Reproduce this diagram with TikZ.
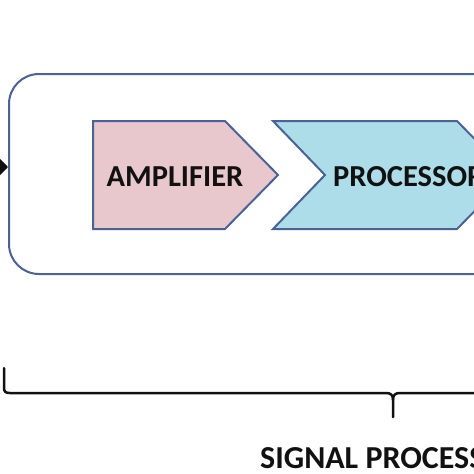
\documentclass[tikz,border=0pt]{standalone}
\usepackage{fontspec}
\setmainfont{Carlito}
\usetikzlibrary{arrows.meta}
\definecolor{frame}{HTML}{4A6296}
\definecolor{ampfill}{HTML}{E8C8CC}
\definecolor{procfill}{HTML}{ADDDE8}
\definecolor{ink}{HTML}{111111}
\tikzset{
  blockshape/.style={draw=frame, line width=2pt, line join=miter},
  blocklabel/.style={font=\bfseries\fontsize{30.5}{30.5}\selectfont, text=ink, inner sep=0pt},
  bracestyle/.style={draw=ink, line width=2.5pt, line cap=round, line join=round},
}
\begin{document}
\begin{tikzpicture}[x=1pt,y=-1pt]
\useasboundingbox (0,0) rectangle (474,474);
\clip (0,0) rectangle (474,474);
% container
\node[draw=frame, line width=2pt, rounded corners=30pt, minimum width=640pt, minimum height=200pt, inner sep=0pt, anchor=north west] (box) at (8,73) {};
% input arrow
\coordinate (instart) at (-40,167);
\coordinate (intip) at (8,167);
\draw[ink, line width=2pt, -{Triangle[length=9pt,width=18pt]}] (instart) -- (intip);
% amplifier
\draw[blockshape, fill=ampfill] (93,121) -- (225,121) -- (278,175) -- (225,229) -- (93,229) -- cycle;
\node[blocklabel] (amp) at (175,177) {AMPLIFIER};
% processor
\draw[blockshape, fill=procfill] (273,121) -- (457,121) -- (510,175) -- (457,229) -- (273,229) -- (325,175) -- cycle;
\node[blocklabel, anchor=west] (proc) at (333,177) {PROCESSOR};
% brace
\coordinate (bl) at (4,368);
\coordinate (bm) at (393,417);
\draw[bracestyle] (bl) -- (4,388) .. controls (4,392) and (6,393) .. (10,393) -- (386,393) .. controls (391,393) and (393,395) .. (393,400) -- (bm);
\draw[bracestyle] (393,400) .. controls (393,395) and (395,393) .. (400,393) -- (520,393);
\node[blocklabel, font=\bfseries\fontsize{32}{32}\selectfont, anchor=base west] (sig) at (260,468) {SIGNAL PROCESSING};
\end{tikzpicture}
\end{document}
